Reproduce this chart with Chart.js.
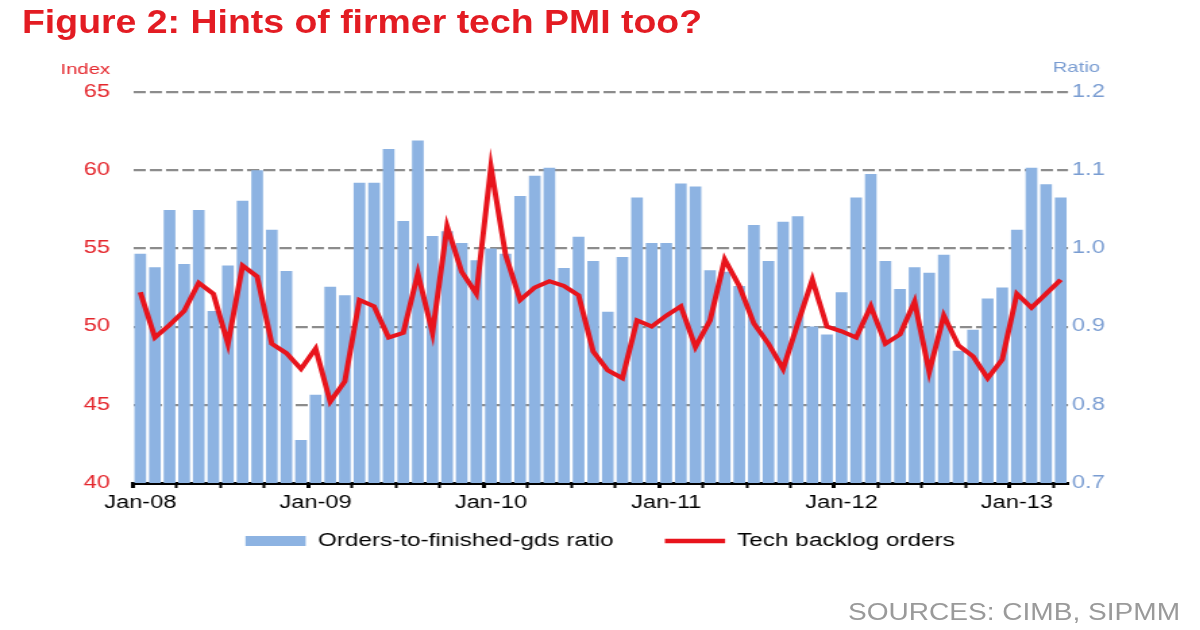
<!DOCTYPE html>
<html>
<head>
<meta charset="utf-8">
<script src="https://cdn.jsdelivr.net/npm/chart.js@4"></script>
<style>
  body { margin: 0; background: #fff; }
  #page { position: relative; width: 1200px; height: 630px; overflow: hidden; background: #fff; font-family: "Liberation Sans", Arial, sans-serif; }
  #title { position: absolute; left: 22px; top: 4px; font-size: 34px; line-height: 1; font-weight: bold; color: #e31c23; white-space: nowrap; transform-origin: 0 0; }
  #sources { position: absolute; left: 848px; top: 600px; font-size: 24px; line-height: 1; color: #9a9a9a; white-space: nowrap; transform-origin: 0 0; }
  #wrap { position: absolute; left: 0; top: 0; width: 889px; height: 630px; transform: scaleX(1.35); transform-origin: 0 0; }
</style>
</head>
<body>
<div id="page">
  <div id="wrap"><canvas id="chart" width="889" height="630"></canvas></div>
  <span id="title">Figure 2: Hints of firmer tech PMI too?</span>
  <span id="sources">SOURCES: CIMB, SIPMM</span>
</div>
<script>
// monthly, Jan-08 .. Apr-13
const categories = [
  'Jan-08','Feb-08','Mar-08','Apr-08','May-08','Jun-08','Jul-08','Aug-08','Sep-08','Oct-08','Nov-08','Dec-08',
  'Jan-09','Feb-09','Mar-09','Apr-09','May-09','Jun-09','Jul-09','Aug-09','Sep-09','Oct-09','Nov-09','Dec-09',
  'Jan-10','Feb-10','Mar-10','Apr-10','May-10','Jun-10','Jul-10','Aug-10','Sep-10','Oct-10','Nov-10','Dec-10',
  'Jan-11','Feb-11','Mar-11','Apr-11','May-11','Jun-11','Jul-11','Aug-11','Sep-11','Oct-11','Nov-11','Dec-11',
  'Jan-12','Feb-12','Mar-12','Apr-12','May-12','Jun-12','Jul-12','Aug-12','Sep-12','Oct-12','Nov-12','Dec-12',
  'Jan-13','Feb-13','Mar-13','Apr-13'
];

// Orders-to-finished-gds ratio (right axis)
const ordersRatio = [
  0.993, 0.976, 1.049, 0.980, 1.049, 0.920, 0.978, 1.061, 1.100, 1.024, 0.971, 0.755,
  0.813, 0.951, 0.940, 1.084, 1.084, 1.127, 1.035, 1.138, 1.016, 1.022, 1.007, 0.985,
  1.000, 0.993, 1.067, 1.093, 1.103, 0.975, 1.015, 0.984, 0.919, 0.989, 1.065, 1.007,
  1.007, 1.083, 1.079, 0.972, 0.970, 0.952, 1.030, 0.984, 1.034, 1.041, 0.900, 0.890,
  0.944, 1.065, 1.095, 0.984, 0.948, 0.976, 0.969, 0.992, 0.869, 0.896, 0.936, 0.950,
  1.024, 1.103, 1.082, 1.065
];

// Tech backlog orders index (left axis)
const techBacklog = [
  52.2, 49.3, 50.1, 51.0, 52.8, 52.1, 48.9, 53.9, 53.2, 48.9, 48.3, 47.3,
  48.6, 45.2, 46.5, 51.7, 51.3, 49.3, 49.6, 53.4, 49.6, 56.4, 53.5, 52.1,
  60.2, 54.6, 51.7, 52.5, 52.9, 52.6, 52.0, 48.4, 47.2, 46.7, 50.4, 50.0,
  50.7, 51.3, 48.7, 50.4, 54.3, 52.6, 50.2, 48.9, 47.3, 50.2, 53.0, 50.0,
  49.7, 49.3, 51.3, 48.9, 49.5, 51.6, 47.1, 50.7, 48.8, 48.1, 46.7, 47.9,
  52.1, 51.2, 52.1, 53.0
];

const indexTicks = [40, 45, 50, 55, 60, 65];
const ratioTicks = [0.7, 0.8, 0.9, 1.0, 1.1, 1.2];

const red = '#e8141c';
const barBlue = '#8db3e2';
const axisRed = '#e4262c';
const axisBlue = '#7a9dd2';

// fit html text to the widths in the picture
function fitWidth(id, w) {
    const el = document.getElementById(id);
    const cur = el.getBoundingClientRect().width;
    el.style.transform = 'scaleX(' + (w / cur) + ')';
}
fitWidth('title', 680);
fitWidth('sources', 332);

Chart.defaults.font.family = '"Liberation Sans", Arial, sans-serif';

const axisNames = {
    id: 'axisNames',
    afterLayout(chart) {
        // pull the legend up closer to the axis labels
        if (chart.legend) {
            chart.legend.top -= 19;
            chart.legend.bottom -= 19;
        }
    },
    afterDraw(chart) {
        const ctx = chart.ctx;
        ctx.save();
        ctx.font = '15px "Liberation Sans", Arial, sans-serif';
        ctx.textBaseline = 'middle';
        ctx.textAlign = 'right';
        ctx.fillStyle = axisRed;
        ctx.fillText('Index', 81.5, 70);
        ctx.fillStyle = axisBlue;
        ctx.fillText('Ratio', 814.8, 68);
        ctx.restore();
    }
};

const ctx = document.getElementById('chart').getContext('2d');
const myChart = new Chart(ctx, {
    type: 'bar',
    data: {
        labels: categories,
        datasets: [{
            type: 'bar',
            label: 'Orders-to-finished-gds ratio',
            data: ordersRatio,
            yAxisID: 'y1',
            backgroundColor: barBlue,
            barPercentage: 0.8,
            categoryPercentage: 1.0,
            order: 1
        }, {
            type: 'line',
            label: 'Tech backlog orders',
            data: techBacklog,
            yAxisID: 'y',
            borderColor: red,
            backgroundColor: red,
            borderWidth: 4,
            pointRadius: 0,
            tension: 0,
            order: 0
        }]
    },
    options: {
        responsive: false,
        animation: false,
        devicePixelRatio: 1,
        layout: { padding: { left: 0, right: 0, top: 92, bottom: 51 } },
        plugins: {
            title: { display: false },
            tooltip: { enabled: false },
            legend: {
                position: 'bottom',
                labels: {
                    color: '#000',
                    font: { size: 18 },
                    usePointStyle: true,
                    pointStyleWidth: 44.6,
                    boxHeight: 10,
                    padding: 38,
                    generateLabels: function(chart) {
                        const items = Chart.defaults.plugins.legend.labels.generateLabels(chart);
                        items.sort((a, b) => a.datasetIndex - b.datasetIndex);
                        items.forEach(item => {
                            if (item.datasetIndex === 0) {
                                item.pointStyle = 'rect';
                                item.lineWidth = 0;
                                item.fillStyle = barBlue;
                            } else {
                                item.pointStyle = 'line';
                                item.lineWidth = 4.5;
                                item.strokeStyle = red;
                            }
                        });
                        return items;
                    }
                }
            }
        },
        scales: {
            x: {
                offset: true,
                afterFit: function(scale) { scale.height = 30; },
                grid: {
                    offset: true,
                    drawOnChartArea: false,
                    drawTicks: true,
                    tickLength: 5,
                    color: (c) => c.index % 3 === 0 ? '#000' : 'rgba(0,0,0,0)',
                    tickWidth: (c) => c.index % 12 === 0 ? 3 : 2
                },
                border: { display: true, color: '#000', width: 3 },
                ticks: {
                    autoSkip: false,
                    maxRotation: 0,
                    padding: 5,
                    color: '#000',
                    font: { size: 17.5 },
                    callback: function(value) {
                        const lbl = this.getLabelForValue(value);
                        return lbl.startsWith('Jan') ? lbl : '';
                    }
                }
            },
            y: {
                position: 'left',
                min: indexTicks[0],
                max: indexTicks[indexTicks.length - 1],
                afterFit: function(scale) { scale.width = 98.5; },
                afterBuildTicks: function(scale) { scale.ticks = indexTicks.map(v => ({ value: v })); },
                grid: {
                    drawTicks: false,
                    color: (c) => c.tick && c.tick.value === indexTicks[0] ? 'rgba(0,0,0,0)' : '#8c8c8c',
                    lineWidth: 2.2
                },
                border: { display: false, dash: [9, 3] },
                ticks: {
                    padding: 17,
                    color: axisRed,
                    font: { size: 17.5 }
                }
            },
            y1: {
                position: 'right',
                min: ratioTicks[0],
                max: ratioTicks[ratioTicks.length - 1],
                afterFit: function(scale) { scale.width = 97.9; },
                afterBuildTicks: function(scale) { scale.ticks = ratioTicks.map(v => ({ value: v })); },
                grid: { display: false, drawTicks: false },
                border: { display: false },
                ticks: {
                    padding: 3,
                    color: axisBlue,
                    font: { size: 17.5 },
                    callback: (v) => Number(v).toFixed(1)
                }
            }
        }
    },
    plugins: [axisNames]
});
</script>
</body>
</html>
